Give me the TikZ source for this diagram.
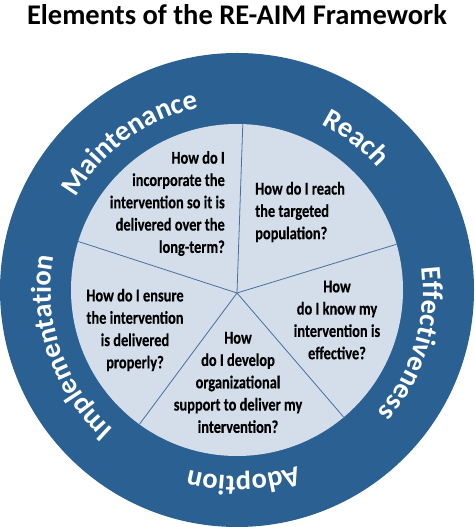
\documentclass[tikz,border=0pt]{standalone}
\usepackage{fontspec}
\setmainfont{Carlito}
\newfontfamily\askfont[FakeStretch=0.8, BoldFeatures={FakeBold=0.3}]{Carlito}
\newcommand{\ringfont}{\bfseries\fontsize{28.5}{30}\selectfont}
\usetikzlibrary{decorations.text}
\definecolor{ringblue}{RGB}{42,96,146}
\definecolor{pieblue}{RGB}{211,222,234}
\definecolor{spokeblue}{RGB}{70,112,155}

\begin{document}
\begin{tikzpicture}[x=1pt, y=1pt,
	question/.style={inner sep=0pt, text=black, font=\askfont\bfseries\fontsize{18}{22.3}\selectfont},
	ringlabel/.style={decorate, decoration={text along path, text align=center, text color=white, text={|\ringfont|#1}}}]
	\useasboundingbox (0,0) rectangle (474,527);
	% Paths, nodes and wires:
	\coordinate (c) at (237,237);
	\coordinate (hub) at (237,234);
	\fill[ringblue] (c) circle[radius=237];
	\fill[pieblue] (c) circle[radius=166];
	\foreach \a in {88,16,-50,-126,163}
		\draw[spokeblue, line width=0.8pt] (hub) -- ([shift={(c)}]\a:166);
	\path[ringlabel=Reach] ([shift={(c)}]112:186) arc[start angle=112, end angle=-8, radius=186];
	\path[ringlabel=Effectiveness] ([shift={(c)}]43:186) arc[start angle=43, end angle=-77, radius=186];
	\path[ringlabel=Adoption] ([shift={(c)}]-28:186) arc[start angle=-28, end angle=-148, radius=186];
	\path[ringlabel=Implementation] ([shift={(c)}]-101:186) arc[start angle=-101, end angle=-221, radius=186];
	\path[ringlabel=Maintenance] ([shift={(c)}]186:186) arc[start angle=186, end angle=66, radius=186];
	\node[question, align=right, anchor=east] (maint) at (225,323.5) {How do I\\incorporate the\\intervention so it is\\delivered over the\\long-term?};
	\node[question, align=left, anchor=west] (reach) at (255,315) {How do I reach\\the targeted\\population?};
	\node[question, align=center] (effect) at (337,207) {How\\do I know my\\intervention is\\effective?};
	\node[question, align=center] (adopt) at (238,144.5) {How\\do I develop\\organizational\\support to deliver my\\intervention?};
	\node[question, align=center] (implem) at (135,197) {How do I ensure\\the intervention\\is delivered\\properly?};
	\node[anchor=base, font=\bfseries\fontsize{28.5}{30}\selectfont] (title) at (237,502) {Elements of the RE-AIM Framework};
\end{tikzpicture}
\end{document}
